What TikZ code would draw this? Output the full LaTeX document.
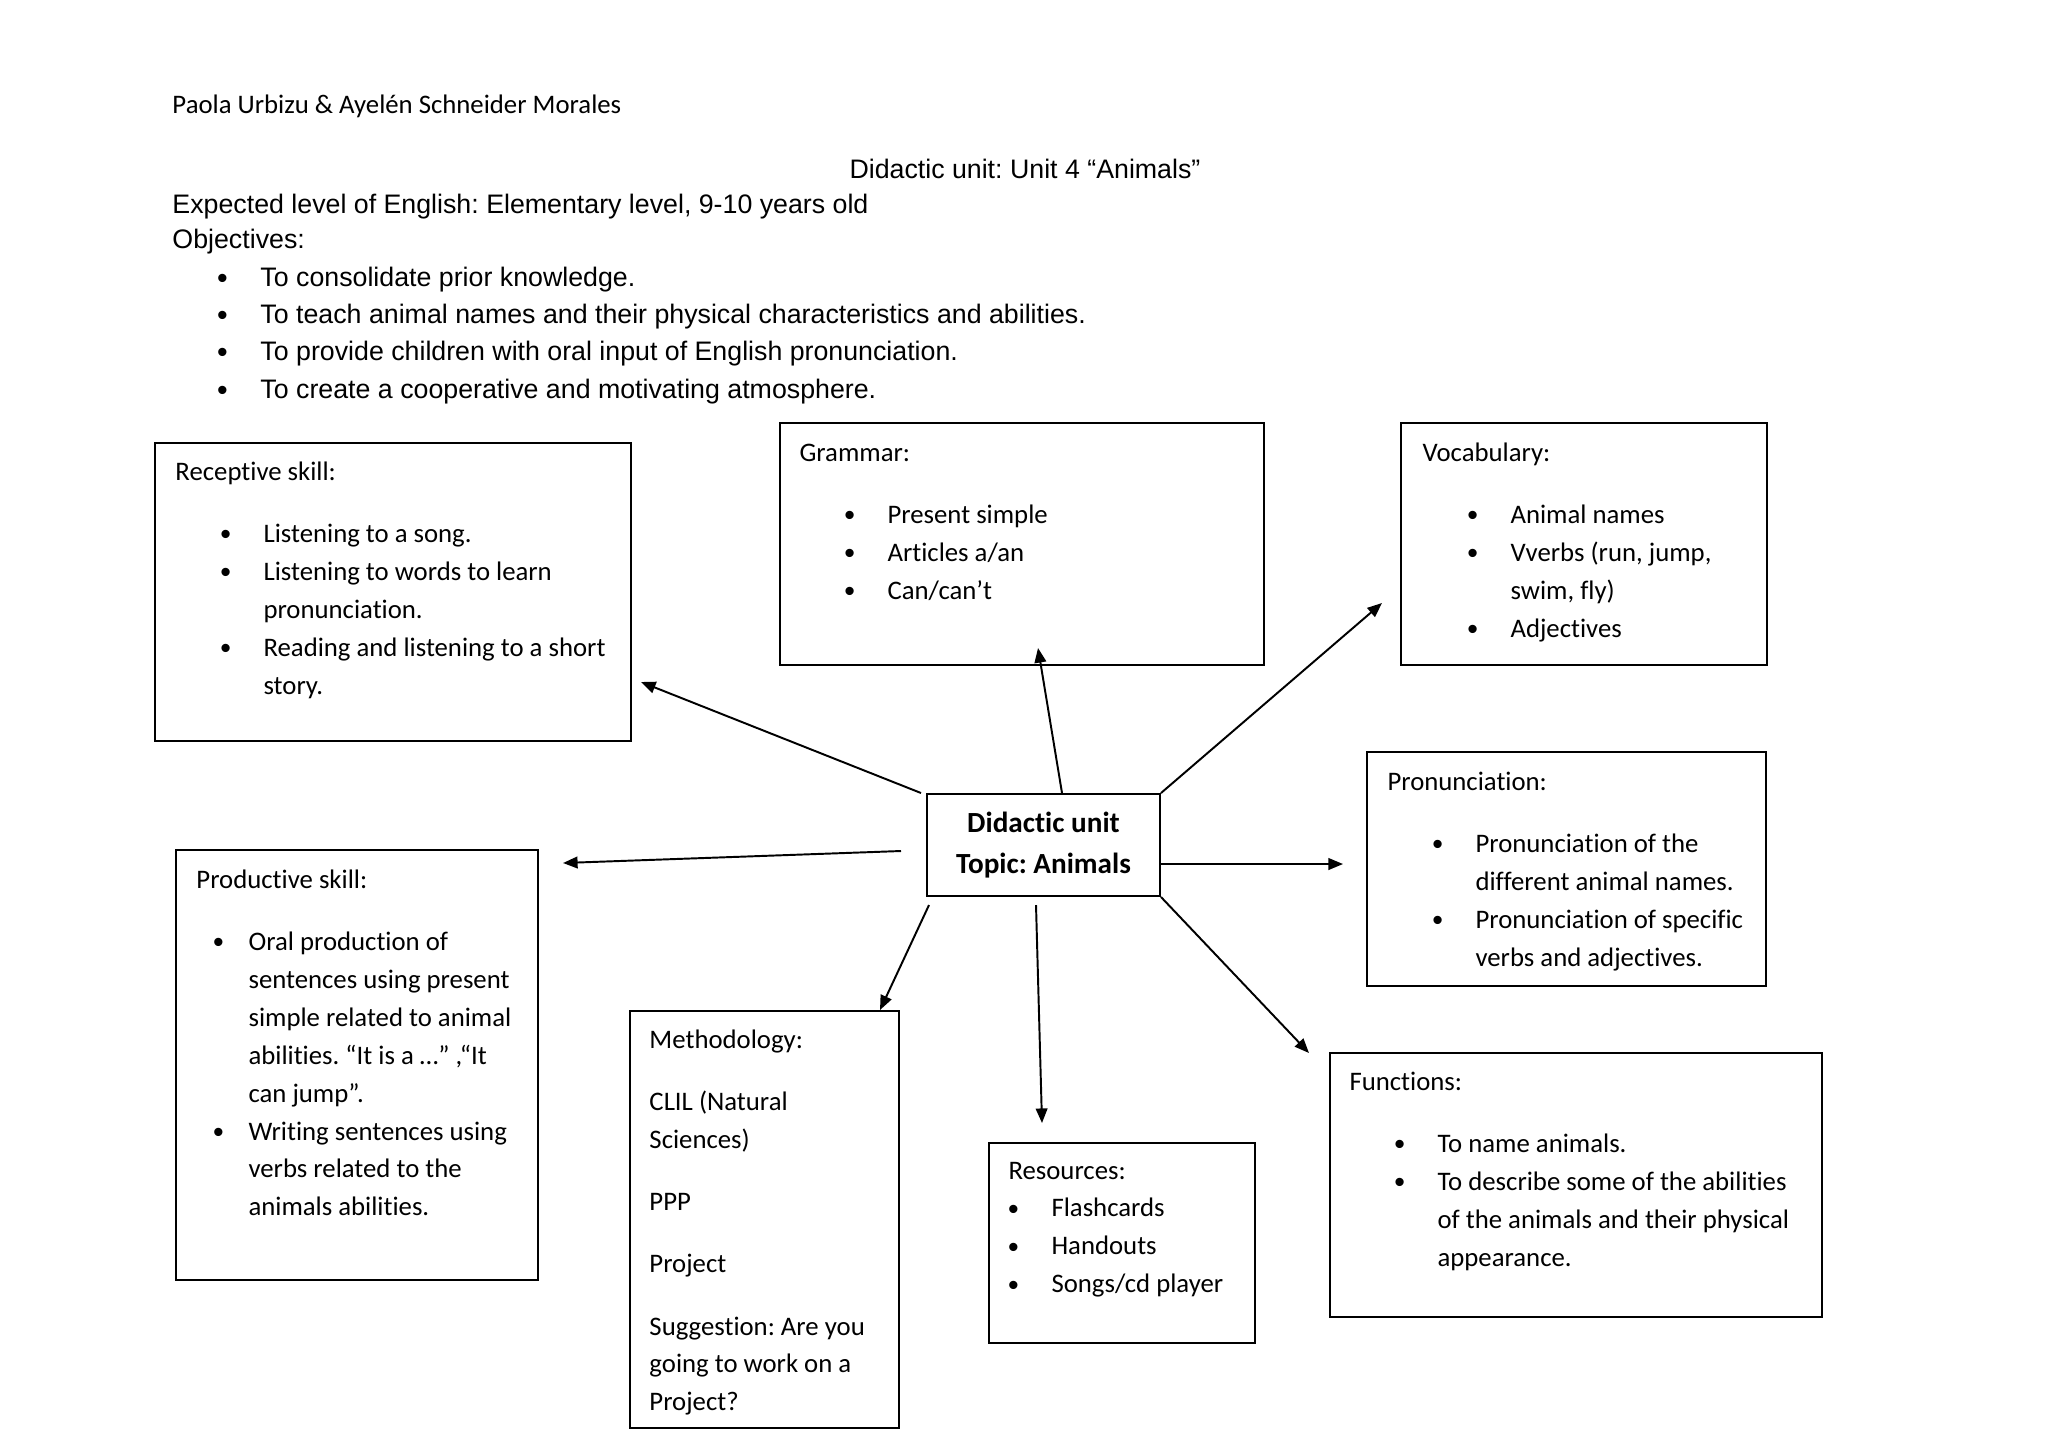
\documentclass[tikz,border=0pt]{standalone}
\usepackage{fontspec}
\setmainfont{Carlito}[Ligatures=NoCommon]
\newfontfamily\arial{Liberation Sans}
\usetikzlibrary{arrows.meta,calc}
\frenchspacing
\newlength\bx \newlength\tx
\newcommand\bul{\raisebox{-0.9pt}{\arial\fontsize{12.5}{12}\selectfont •}}
\newcommand\bl[1]{\par\noindent\rlap{\hspace*{\bx}\makebox[0pt]{\bul}}\hspace*{\tx}#1}
\newcommand\cl[1]{\par\noindent\hspace*{\tx}#1}
\newcommand\gap{\par\vspace{10pt}}
\newenvironment{bt}{\begin{minipage}[t]{330pt}\frenchspacing\fontsize{11}{15.6}\selectfont\setlength\parskip{0pt}\setlength\bx{20.6pt}\setlength\tx{36.2pt}\noindent}{\end{minipage}}
\def\U{0.41113pt}
\tikzset{
  pbox/.style={draw, line width=0.8pt, rectangle, inner sep=0pt},
  txt/.style={anchor=base west, inner sep=0pt},
  arr/.style={-{Triangle[length=6pt,width=4.8pt]}, line width=0.8pt},
}
\begin{document}
\begin{tikzpicture}[x=0.41113pt, y=-0.41113pt]
\useasboundingbox (0,0) rectangle (2048,1448);
\fill[white] (0,0) rectangle (2048,1448);

% header
\node[txt, font=\fontsize{11}{13}\selectfont] (h1) at (172,113) {Paola Urbizu \& Ayelén Schneider Morales};
\node[txt, font=\arial\fontsize{11}{13}\selectfont] (h2) at (849,178) {Didactic unit: Unit 4 “Animals”};
\node[txt, font=\arial\fontsize{11}{13}\selectfont] (h3) at (172,213) {Expected level of English: Elementary level, 9-10 years old};
\node[txt, font=\arial\fontsize{11}{13}\selectfont] (h4) at (172,248) {Objectives:};
\node[txt, font=\arial\fontsize{11}{13}\selectfont] (o1) at (260,286) {\llap{\makebox[0pt]{\bul}\hspace*{15.6pt}}To consolidate prior knowledge.};
\node[txt, font=\arial\fontsize{11}{13}\selectfont] (o2) at (260,323) {\llap{\makebox[0pt]{\bul}\hspace*{15.6pt}}To teach animal names and their physical characteristics and abilities.};
\node[txt, font=\arial\fontsize{11}{13}\selectfont] (o3) at (260,360) {\llap{\makebox[0pt]{\bul}\hspace*{15.6pt}}To provide children with oral input of English pronunciation.};
\node[txt, font=\arial\fontsize{11}{13}\selectfont] (o4) at (260,398) {\llap{\makebox[0pt]{\bul}\hspace*{15.6pt}}To create a cooperative and motivating atmosphere.};

% boxes
\node[pbox, minimum width={476*\U}, minimum height={298*\U}] (rec) at (393,592) {};
\node[pbox, minimum width={484*\U}, minimum height={242*\U}] (gra) at (1022,544) {};
\node[pbox, minimum width={366*\U}, minimum height={242*\U}] (voc) at (1584,544) {};
\node[pbox, minimum width={233*\U}, minimum height={102*\U}, align=center, font=\bfseries\fontsize{12}{16.9}\selectfont] (c) at (1043.5,845) {Didactic unit\\Topic: Animals};
\node[pbox, minimum width={362*\U}, minimum height={430*\U}] (pro) at (357,1065) {};
\node[pbox, minimum width={269*\U}, minimum height={417*\U}] (met) at (764.5,1219.5) {};
\node[pbox, minimum width={266*\U}, minimum height={200*\U}] (res) at (1122,1243) {};
\node[pbox, minimum width={399*\U}, minimum height={234*\U}] (pcn) at (1566.5,869) {};
\node[pbox, minimum width={492*\U}, minimum height={264*\U}] (fun) at (1576,1185) {};

% box texts
\node[txt] (rect) at (175,480) {\begin{bt}Receptive skill:\gap
\bl{Listening to a song.}
\bl{Listening to words to learn}
\cl{pronunciation.}
\bl{Reading and listening to a short}
\cl{story.}\end{bt}};

\node[txt] (grat) at (799,461) {\begin{bt}Grammar:\gap
\bl{Present simple}
\bl{Articles a/an}
\bl{Can/can’t}\end{bt}};

\node[txt] (voct) at (1422,461) {\begin{bt}Vocabulary:\gap
\bl{Animal names}
\bl{Vverbs (run, jump,}
\cl{swim, fly)}
\bl{Adjectives}\end{bt}};

\node[txt] (pcnt) at (1387,790) {\begin{bt}Pronunciation:\gap
\bl{Pronunciation of the}
\cl{different animal names.}
\bl{Pronunciation of specific}
\cl{verbs and adjectives.}\end{bt}};

\node[txt] (funt) at (1349,1090) {\begin{bt}Functions:\gap
\bl{To name animals.}
\bl{To describe some of the abilities}
\cl{of the animals and their physical}
\cl{appearance.}\end{bt}};

\node[txt] (prot) at (196,888) {\begin{bt}\setlength\bx{9pt}\setlength\tx{21.4pt}Productive skill:\gap
\bl{Oral production of}
\cl{sentences using present}
\cl{simple related to animal}
\cl{abilities. “It is a …” ,“It}
\cl{can jump”.}
\bl{Writing sentences using}
\cl{verbs related to the}
\cl{animals abilities.}\end{bt}};

\node[txt] (mett) at (649,1048) {\begin{bt}Methodology:\gap
CLIL (Natural\par
Sciences)\gap
PPP\gap
Project\gap
Suggestion: Are you\par
going to work on a\par
Project?\end{bt}};

\node[txt] (rest) at (1008,1179) {\begin{bt}\setlength\bx{2pt}\setlength\tx{17.7pt}Resources:
\bl{Flashcards}
\bl{Handouts}
\bl{Songs/cd player}\end{bt}};

% connector end points
\coordinate (s1) at (921,793);  \coordinate (e1) at (641,682);
\coordinate (s2) at (1062,793); \coordinate (e2) at (1038,648);
\coordinate (s3) at (c.north east); \coordinate (e3) at (1382,603);
\coordinate (s4) at (901,851);  \coordinate (e4) at (563,863);
\coordinate (s5) at (1160,864); \coordinate (e5) at (1343,864);
\coordinate (s6) at (929,905);  \coordinate (e6) at (880,1010);
\coordinate (s7) at (1036,905); \coordinate (e7) at (1042,1123);
\coordinate (s8) at (c.south east); \coordinate (e8) at (1309,1053);

\draw[arr] (s1) -- (e1);
\draw[arr] (s2) -- (e2);
\draw[arr] (s3) -- (e3);
\draw[arr] (s4) -- (e4);
\draw[arr] (s5) -- (e5);
\draw[arr] (s6) -- (e6);
\draw[arr] (s7) -- (e7);
\draw[arr] (s8) -- (e8);
\end{tikzpicture}
\end{document}
